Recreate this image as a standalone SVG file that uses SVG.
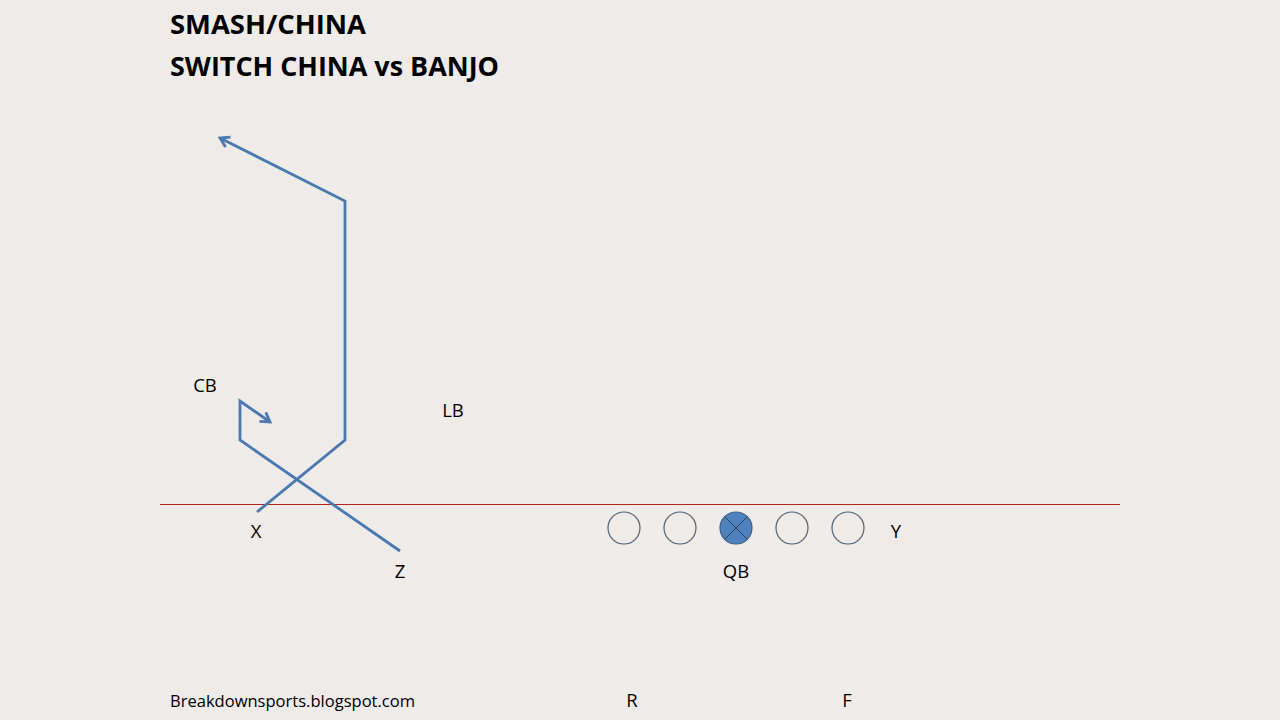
<svg xmlns="http://www.w3.org/2000/svg" width="1280" height="720" viewBox="0 0 1280 720">
<defs>
<style>
.lbl{font-family:"Open Sans","Liberation Sans",sans-serif;font-size:18.5px;fill:#000;text-anchor:middle}
.title{font-family:"Open Sans","Liberation Sans",sans-serif;font-size:27px;font-weight:bold;fill:#000}
.route{fill:none;stroke:#4A78B0;stroke-width:2.8;stroke-linejoin:miter}
.ol{fill:none;stroke:#4A5E72;stroke-width:1.2}
</style>
<marker id="arr" markerWidth="14" markerHeight="14" viewBox="0 0 14 14" refX="11" refY="7" orient="auto" markerUnits="userSpaceOnUse">
<polyline points="2,1.5 11,7 2,12.5" fill="none" stroke="#4A78B0" stroke-width="2.8"/>
</marker>
</defs>
<rect width="1280" height="720" fill="#EEEBE9"/>
<g id="titles">
<text class="title" x="170" y="34" textLength="196" lengthAdjust="spacingAndGlyphs">SMASH/CHINA</text>
<text class="title" x="170" y="76" textLength="329" lengthAdjust="spacingAndGlyphs">SWITCH CHINA vs BANJO</text>
</g>
<line id="los" x1="160" y1="504.5" x2="1120" y2="504.5" stroke="#B3231C" stroke-width="1.2"/>
<g id="connectors">
<polyline class="route" points="257,512 345,440 345,201 220,138" marker-end="url(#arr)"/>
<polyline class="route" points="400,551 240,440 240,401 270,422" marker-end="url(#arr)"/>
</g>
<g id="ol1"><circle class="ol" cx="624" cy="528" r="16"/></g>
<g id="ol2"><circle class="ol" cx="680" cy="528" r="16"/></g>
<g id="center"><circle cx="736" cy="528" r="16" fill="#4F81BD" stroke="#3A5F8A" stroke-width="1.2"/>
<line x1="724.7" y1="516.7" x2="747.3" y2="539.3" stroke="#2B4463" stroke-width="1"/>
<line x1="747.3" y1="516.7" x2="724.7" y2="539.3" stroke="#2B4463" stroke-width="1"/></g>
<g id="ol4"><circle class="ol" cx="792" cy="528" r="16"/></g>
<g id="ol5"><circle class="ol" cx="848" cy="528" r="16"/></g>
<g id="CB"><text class="lbl" x="205" y="392">CB</text></g>
<g id="LB"><text class="lbl" x="453" y="417">LB</text></g>
<g id="X"><text class="lbl" x="256" y="538">X</text></g>
<g id="Z"><text class="lbl" x="400" y="578">Z</text></g>
<g id="QB"><text class="lbl" x="736" y="578">QB</text></g>
<g id="Y"><text class="lbl" x="896" y="538">Y</text></g>
<g id="R"><text class="lbl" x="632" y="707">R</text></g>
<g id="F"><text class="lbl" x="847" y="707">F</text></g>
<g id="credit"><text class="lbl" x="170" y="707" style="text-anchor:start;font-size:16.5px" textLength="245" lengthAdjust="spacingAndGlyphs">Breakdownsports.blogspot.com</text></g>
</svg>
